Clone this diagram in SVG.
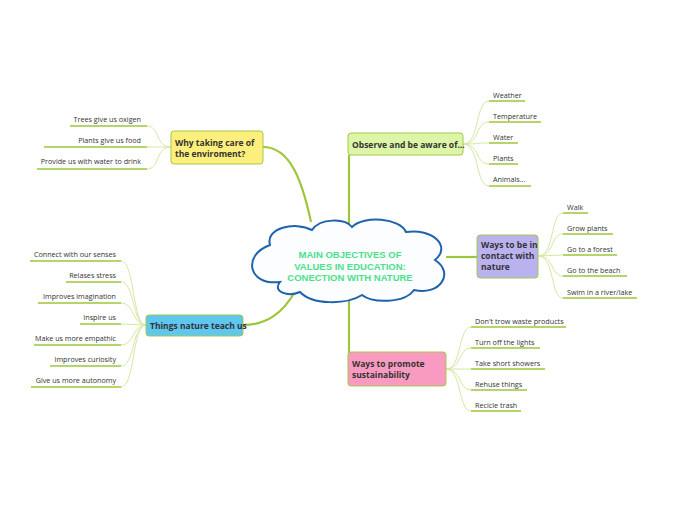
<svg xmlns="http://www.w3.org/2000/svg" width="697" height="520" viewBox="0 0 697 520">
<style>
.c{fill:none;stroke:#9cc63b;stroke-width:2.2}
.b{fill:none;stroke:#d4e8a4;stroke-width:1}
.u{stroke:#9cc63b;stroke-width:1.5}
.n{stroke:#a3c94a;stroke-width:1}
.t{font-family:"Open Sans","Noto Sans",sans-serif;font-size:7.2px;fill:#333}
.h{font-family:"Open Sans","Noto Sans",sans-serif;font-size:8.5px;font-weight:bold;fill:#333}
.r{text-anchor:end}
</style>
<rect width="697" height="520" fill="#fff"/>
<g id="connectors">
<path class="c" d="M263,147 C290,147 302,180 311,222"/>
<path class="c" d="M349,155 L349,224"/>
<path class="c" d="M446,257 L477,257"/>
<path class="c" d="M349,298 L349,369"/>
<path class="c" d="M243,325 C265,325 282,315 296,290"/>
<path class="b" d="M171,147 C155,147 160,126 147,126 M171,147 L147,147 M171,147 C155,147 160,169 147,169"/>
<path class="b" d="M463,144 C480,144 475,101 489,101 M463,144 C480,144 475,122 489,122 M463,144 C480,144 475,143 489,143 M463,144 C480,144 475,164 489,164 M463,144 C480,144 475,186 489,186"/>
<path class="b" d="M538,256 C555,256 550,213 563,213 M538,256 C555,256 550,234 563,234 M538,256 L563,255 M538,256 C555,256 550,276 563,276 M538,256 C555,256 550,298 563,298"/>
<path class="b" d="M446,369 C462,369 458,327 471,327 M446,369 C462,369 458,348 471,348 M446,369 L471,369 M446,369 C462,369 458,390 471,390 M446,369 C462,369 458,411 471,411"/>
<path class="b" d="M146,325 C132,325 135,261 121,261 M146,325 C132,325 135,282 121,282 M146,325 C132,325 135,303 121,303 M146,325 L121,324 M146,325 C132,325 135,345 121,345 M146,325 C132,325 135,366 121,366 M146,325 C132,325 135,387 121,387"/>
<g class="u">
<line x1="70" y1="126" x2="147" y2="126"/><line x1="44" y1="147" x2="147" y2="147"/><line x1="37" y1="169" x2="147" y2="169"/>
<line x1="489" y1="101" x2="525" y2="101"/><line x1="489" y1="122" x2="541" y2="122"/><line x1="489" y1="143" x2="518" y2="143"/><line x1="489" y1="164" x2="518" y2="164"/><line x1="489" y1="186" x2="531" y2="186"/>
<line x1="563" y1="213" x2="588" y2="213"/><line x1="563" y1="234" x2="613" y2="234"/><line x1="563" y1="255" x2="617" y2="255"/><line x1="563" y1="276" x2="627" y2="276"/><line x1="563" y1="298" x2="637" y2="298"/>
<line x1="471" y1="327" x2="566" y2="327"/><line x1="471" y1="348" x2="540" y2="348"/><line x1="471" y1="369" x2="545" y2="369"/><line x1="471" y1="390" x2="527" y2="390"/><line x1="471" y1="411" x2="521" y2="411"/>
<line x1="30" y1="261" x2="121" y2="261"/><line x1="66" y1="282" x2="121" y2="282"/><line x1="38" y1="303" x2="121" y2="303"/><line x1="80" y1="324" x2="121" y2="324"/><line x1="34" y1="345" x2="121" y2="345"/><line x1="50" y1="366" x2="121" y2="366"/><line x1="31" y1="387" x2="121" y2="387"/>
</g>
</g>
<g id="center">
<path d="M280,282 C248,286 242,255 270,245 C265,228 295,221 312,230 C320,218 345,218 352,227 C364,215 400,218 406,232 C432,228 452,246 435,260 C455,273 440,296 414,290 C404,304 372,303 362,295 C346,305 312,305 300,292 C288,297 272,292 280,282 Z" fill="#fbfdfe" stroke="#1f62ad" stroke-width="2"/>
<g font-family="Liberation Sans,Arial,sans-serif" font-size="9.5" font-weight="bold" fill="#4be08a" text-anchor="middle">
<text x="350" y="258">MAIN OBJECTIVES OF</text><text x="350" y="270">VALUES IN EDUCATION:</text><text x="350" y="281">CONECTION WITH NATURE</text>
</g>
</g>
<g id="n-why">
<rect class="n" x="171" y="131" width="92" height="33" rx="3" fill="#fdef7c"/>
<text class="h" x="175" y="146">Why taking care of</text><text class="h" x="175" y="157">the enviroment?</text>
<text class="t r" x="141" y="122">Trees give us oxigen</text>
<text class="t r" x="141" y="143">Plants give us food</text>
<text class="t r" x="141" y="164">Provide us with water to drink</text>
</g>
<g id="n-observe">
<rect class="n" x="348" y="133" width="115" height="22" rx="3" fill="#dcf5a6"/>
<text class="h" x="352" y="147.5">Observe and be aware of...</text>
<text class="t" x="493" y="98">Weather</text><text class="t" x="493" y="119">Temperature</text><text class="t" x="493" y="140">Water</text><text class="t" x="493" y="161">Plants</text><text class="t" x="493" y="182">Animals...</text>
</g>
<g id="n-ways">
<rect class="n" x="477" y="235" width="61" height="43" rx="3" fill="#bab2ef"/>
<text class="h" x="481" y="248">Ways to be in</text><text class="h" x="481" y="259">contact with</text><text class="h" x="481" y="270">nature</text>
<text class="t" x="567" y="210">Walk</text><text class="t" x="567" y="231">Grow plants</text><text class="t" x="567" y="252">Go to a forest</text><text class="t" x="567" y="273">Go to the beach</text><text class="t" x="567" y="295">Swim in a river/lake</text>
</g>
<g id="n-sust">
<rect class="n" x="348" y="352" width="98" height="34" rx="3" fill="#f99bc0"/>
<text class="h" x="352" y="367">Ways to promote</text><text class="h" x="352" y="378">sustainability</text>
<text class="t" x="475" y="324">Don't trow waste products</text><text class="t" x="475" y="345">Turn off the lights</text><text class="t" x="475" y="366">Take short showers</text><text class="t" x="475" y="387">Rehuse things</text><text class="t" x="475" y="408">Recicle trash</text>
</g>
<g id="n-things">
<rect class="n" x="146" y="315" width="97" height="21" rx="3" fill="#5ec6ef"/>
<text class="h" x="150" y="329">Things nature teach us</text>
<text class="t r" x="116" y="257">Connect with our senses</text>
<text class="t r" x="116" y="278">Relases stress</text>
<text class="t r" x="116" y="299">Improves imagination</text>
<text class="t r" x="116" y="320">Inspire us</text>
<text class="t r" x="116" y="341">Make us more empathic</text>
<text class="t r" x="116" y="362">Improves curiosity</text>
<text class="t r" x="116" y="383">Give us more autonomy</text>
</g>
</svg>
